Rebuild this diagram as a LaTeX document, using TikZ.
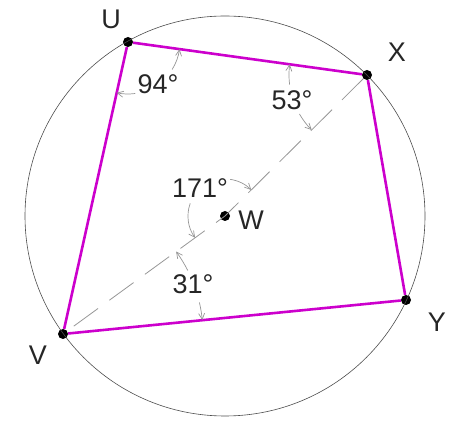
\documentclass[tikz,border=0pt]{standalone}
\usepackage{fontspec}
\setmainfont{Liberation Sans}
\usetikzlibrary{arrows.meta}
\definecolor{quadpink}{RGB}{204,0,204}
\definecolor{markgray}{RGB}{150,150,150}

\begin{document}
\begin{tikzpicture}[x=1pt,y=1pt]
\tikzset{vertex/.style={circle,fill=black,inner sep=0pt,minimum size=10pt}}
\tikzset{side/.style={quadpink,line width=2.6pt}}
\tikzset{dashline/.style={markgray,line width=0.8pt,dash pattern=on 30pt off 14pt}}
\tikzset{anglemark/.style={markgray,line width=0.7pt,-{Straight Barb[length=6pt,width=6pt]}}}
\tikzset{tag/.style={font=\fontsize{27}{30}\selectfont,text=black!85}}

\useasboundingbox (0,0) rectangle (450,423);

\node[vertex] (W) at (225,207) {};
\node[vertex] (U) at (128,381) {};
\node[vertex] (X) at (367,348) {};
\node[vertex] (Y) at (406,123) {};
\node[vertex] (V) at (63,89) {};

\draw[black!70, line width=0.6pt] (W.center) circle[radius=200];

\draw[dashline] (X) -- (W.center) -- (V);
\draw[side] (U) -- (X) -- (Y) -- (V) -- (U);

% angle marks
\draw[anglemark] ([shift={(278:52)}]U.center) arc[start angle=278, end angle=257.4, radius=52];
\draw[anglemark] ([shift={(328:52)}]U.center) arc[start angle=328, end angle=352.1, radius=52];
\draw[anglemark] ([shift={(187:78)}]X.center) arc[start angle=187, end angle=172.1, radius=78];
\draw[anglemark] ([shift={(210:78)}]X.center) arc[start angle=210, end angle=224.8, radius=78];
\draw[anglemark] ([shift={(82:37)}]W.center) arc[start angle=82, end angle=44.8, radius=37];
\draw[anglemark] ([shift={(160:37)}]W.center) arc[start angle=160, end angle=216.1, radius=37];
\draw[anglemark] ([shift={(27:140)}]V.center) arc[start angle=27, end angle=36.1, radius=140];
\draw[anglemark] ([shift={(13:140)}]V.center) arc[start angle=13, end angle=5.7, radius=140];

\node[tag] (labU) at (111,404) {U};
\node[tag] (labX) at (397,371) {X};
\node[tag] (labY) at (437,101) {Y};
\node[tag] (labV) at (38,68) {V};
\node[tag] (labW) at (251,203) {W};
\node[tag] (a94) at (158,339) {94°};
\node[tag] (a53) at (292,323) {53°};
\node[tag] (a171) at (200,235) {171°};
\node[tag] (a31) at (193,139) {31°};

\end{tikzpicture}
\end{document}
